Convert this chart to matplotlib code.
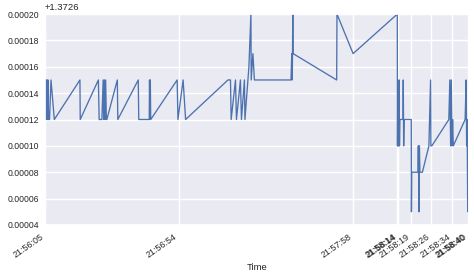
import matplotlib
matplotlib.use("Agg")
import matplotlib.pyplot as plt
import matplotlib.dates as mdates
import seaborn as sns
import pandas as pd
from matplotlib.ticker import ScalarFormatter

sns.set_theme(style="darkgrid")
plt.rcParams['font.family'] = ['Liberation Sans', 'DejaVu Sans']

start_time = "2000-01-01 21:56:05"

# seconds after 21:56:05
seconds = [
    0.00, 0.18, 0.37, 0.55, 0.73, 0.91, 1.10, 1.28, 1.65, 2.19, 3.40,
    12.80, 12.91, 19.56, 19.85, 20.84, 21.32, 21.50, 21.76, 21.94, 22.23, 22.49,
    22.67, 26.51, 26.69, 34.19, 34.37, 38.21, 38.32, 38.46, 38.61, 38.76,
    48.45, 48.74, 50.64, 51.55, 67.09, 68.01, 68.26, 69.84, 70.20,
    71.66, 72.03, 73.13, 73.31, 74.77, 75.50, 75.61, 76.23, 76.78,
    90.20, 90.49, 90.68, 90.86, 90.97, 106.95, 107.06, 112.98, 129.18,
    129.25, 129.36, 129.47, 129.58, 129.69, 129.84, 129.98, 130.16,
    131.26, 131.37, 131.52, 131.70, 134.30, 134.37, 134.48,
    136.75, 136.86, 136.93, 137.11, 137.29, 137.48, 138.39, 140.77,
    141.39, 141.50, 141.86, 148.08, 148.45, 148.74, 148.99, 149.25, 149.47, 149.72,
    154.06, 154.43, 154.61, 154.80, 155.00,
]
prices = [
    1.37275, 1.37272, 1.37275, 1.37272, 1.37275, 1.37272, 1.37275, 1.37272, 1.37272, 1.37275, 1.37272,
    1.37275, 1.37272, 1.37275, 1.37272, 1.37272, 1.37275, 1.37272, 1.37275, 1.37272, 1.37275, 1.37272,
    1.37272, 1.37275, 1.37272, 1.37275, 1.37272, 1.37272, 1.37275, 1.37272, 1.37275, 1.37272,
    1.37275, 1.37272, 1.37275, 1.37272, 1.37275, 1.37275, 1.37272, 1.37275, 1.37272,
    1.37275, 1.37272, 1.37275, 1.37272, 1.37276, 1.37280, 1.37275, 1.37277, 1.37275,
    1.37275, 1.37277, 1.37275, 1.37280, 1.37277, 1.37275, 1.37280, 1.37277, 1.37280,
    1.37270, 1.37275, 1.37270, 1.37272, 1.37270, 1.37275, 1.37270, 1.37272,
    1.37272, 1.37275, 1.37270, 1.37272, 1.37272, 1.37265, 1.37268,
    1.37268, 1.37270, 1.37270, 1.37265, 1.37270, 1.37268, 1.37268, 1.37270,
    1.37275, 1.37270, 1.37270, 1.37272, 1.37275, 1.37270, 1.37275, 1.37270, 1.37272, 1.37270,
    1.37272, 1.37275, 1.37270, 1.37272, 1.37265,
]
tick_seconds = [0, 49, 113, 129.2, 129.6, 134.2, 141.5, 149.2, 155.0, 155.35]
x_label = "Time"
y_limits = (1.37264, 1.37280)
y_offset = 1.3726
y_ticks = [1.37264, 1.37266, 1.37268, 1.37270, 1.37272, 1.37274, 1.37276, 1.37278, 1.37280]

base = pd.Timestamp(start_time)
times = [base + pd.Timedelta(seconds=s) for s in seconds]
tick_times = [base + pd.Timedelta(seconds=s) for s in tick_seconds]

fig = plt.figure(figsize=(4.74, 2.76), dpi=100)
ax = fig.add_axes([0.095, 0.185, 0.894, 0.764])
ax.plot(times, prices, color="#4C72B0", linewidth=0.95)
ax.set_xlim(times[0], base + pd.Timedelta(seconds=155.4))
ax.set_ylim(*y_limits)
ax.set_xticks(tick_times)
ax.xaxis.set_major_formatter(mdates.DateFormatter("%H:%M:%S"))
for lab in ax.get_xticklabels():
    lab.set_rotation(35)
    lab.set_ha("right")
    lab.set_rotation_mode("default")
fmt = ScalarFormatter(useOffset=y_offset)
ax.yaxis.set_major_formatter(fmt)
ax.set_yticks(y_ticks)
ax.tick_params(axis="y", labelsize=6.2, length=0, pad=4)
ax.tick_params(axis="x", labelsize=6.4, length=0, pad=5)
ax.yaxis.get_offset_text().set_fontsize(6.8)
ax.set_xlabel(x_label, fontsize=6.8, labelpad=3)
fig.savefig("out.png", dpi=100)
